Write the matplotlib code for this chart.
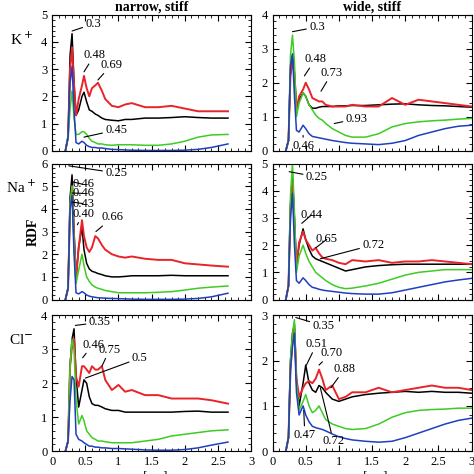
import matplotlib
matplotlib.use("Agg")
import matplotlib.pyplot as plt
import numpy as np

plt.rcParams['font.family'] = ['Liberation Serif', 'DejaVu Serif']

# ---- data ----
rN = [0.2, 0.24, 0.27, 0.3, 0.33, 0.36, 0.4, 0.45, 0.48, 0.52, 0.56, 0.6, 0.65, 0.69, 0.75, 0.8, 0.9, 1.0, 1.1, 1.2, 1.4, 1.6, 1.8, 2.0, 2.2, 2.4, 2.65]
rW = [0.2, 0.24, 0.27, 0.3, 0.33, 0.36, 0.4, 0.46, 0.5, 0.55, 0.6, 0.65, 0.7, 0.75, 0.8, 0.9, 1.0, 1.1, 1.2, 1.4, 1.6, 1.8, 2.0, 2.2, 2.4, 2.6, 2.8, 3.0]

# K+ narrow
K_n_black = [0, 0.5, 3.5, 4.3, 2.5, 1.3, 1.5, 2.0, 2.15, 1.8, 1.5, 1.45, 1.35, 1.3, 1.2, 1.15, 1.12, 1.1, 1.15, 1.15, 1.2, 1.2, 1.22, 1.25, 1.22, 1.2, 1.2]
K_n_red = [0, 0.5, 3.0, 3.8, 2.4, 1.3, 1.9, 2.4, 2.75, 2.3, 2.0, 2.3, 2.4, 2.5, 2.2, 1.9, 1.65, 1.6, 1.7, 1.75, 1.6, 1.6, 1.65, 1.55, 1.45, 1.45, 1.45]
K_n_green = [0, 0.5, 1.5, 2.2, 1.2, 0.6, 0.6, 0.7, 0.7, 0.6, 0.45, 0.35, 0.3, 0.25, 0.25, 0.22, 0.2, 0.22, 0.22, 0.22, 0.2, 0.2, 0.25, 0.35, 0.5, 0.58, 0.6]
K_n_blue = [0, 0.5, 2.5, 3.1, 1.5, 0.3, 0.25, 0.35, 0.3, 0.2, 0.15, 0.12, 0.12, 0.1, 0.1, 0.08, 0.05, 0.04, 0.03, 0.02, 0.01, 0.01, 0.01, 0.02, 0.05, 0.12, 0.25]

# K+ wide
K_w_black = [0, 0.3, 2.4, 2.8, 2.2, 1.3, 1.5, 1.7, 1.6, 1.35, 1.25, 1.25, 1.28, 1.3, 1.3, 1.3, 1.32, 1.32, 1.33, 1.33, 1.35, 1.37, 1.38, 1.35, 1.33, 1.32, 1.3, 1.28]
K_w_red = [0, 0.3, 2.2, 2.6, 2.3, 1.2, 1.6, 1.8, 2.0, 1.8, 1.55, 1.5, 1.45, 1.45, 1.35, 1.3, 1.3, 1.3, 1.35, 1.3, 1.3, 1.55, 1.35, 1.5, 1.45, 1.4, 1.35, 1.3]
K_w_green = [0, 0.3, 2.8, 3.4, 2.6, 1.0, 1.4, 1.7, 1.6, 1.35, 1.2, 1.05, 0.95, 0.9, 0.8, 0.65, 0.55, 0.45, 0.4, 0.4, 0.5, 0.7, 0.8, 0.85, 0.88, 0.9, 0.93, 0.95]
K_w_blue = [0, 0.3, 2.5, 2.85, 1.6, 0.6, 0.55, 0.75, 0.65, 0.5, 0.42, 0.4, 0.38, 0.36, 0.34, 0.3, 0.27, 0.24, 0.22, 0.2, 0.18, 0.22, 0.3, 0.45, 0.55, 0.65, 0.72, 0.75]

# Na+ narrow
N_n_black = [0, 0.5, 4.5, 5.5, 3.0, 1.0, 2.3, 3.2, 2.2, 1.6, 1.35, 1.25, 1.2, 1.15, 1.1, 1.05, 1.0, 1.0, 1.02, 1.05, 1.05, 1.05, 1.07, 1.05, 1.05, 1.05, 1.05]
N_n_red = [0, 0.5, 4.0, 5.0, 2.8, 0.9, 2.3, 3.5, 2.8, 2.3, 2.1, 2.3, 2.8, 2.7, 2.4, 2.2, 2.0, 1.9, 1.85, 1.9, 1.8, 1.75, 1.75, 1.6, 1.55, 1.5, 1.45]
N_n_green = [0, 0.5, 4.2, 5.0, 2.5, 0.7, 1.3, 2.0, 1.5, 1.0, 0.8, 0.65, 0.55, 0.5, 0.45, 0.4, 0.35, 0.3, 0.3, 0.3, 0.3, 0.32, 0.35, 0.42, 0.5, 0.55, 0.6]
N_n_blue = [0, 0.5, 4.0, 4.6, 2.0, 0.3, 0.25, 0.35, 0.3, 0.2, 0.15, 0.12, 0.1, 0.08, 0.07, 0.06, 0.05, 0.04, 0.03, 0.02, 0.01, 0.01, 0.01, 0.02, 0.05, 0.12, 0.28]

# Na+ wide
N_w_black = [0, 0.5, 3.5, 4.6, 3.0, 1.2, 2.0, 2.6, 2.2, 1.85, 1.6, 1.5, 1.45, 1.4, 1.35, 1.25, 1.15, 1.05, 1.1, 1.2, 1.25, 1.28, 1.3, 1.3, 1.3, 1.3, 1.3, 1.3]
N_w_red = [0, 0.5, 3.3, 4.3, 2.8, 1.2, 2.1, 2.5, 2.2, 2.0, 1.8, 1.9, 1.7, 1.55, 1.5, 1.45, 1.35, 1.3, 1.45, 1.4, 1.45, 1.35, 1.4, 1.4, 1.45, 1.4, 1.35, 1.3]
N_w_green = [0, 0.5, 3.8, 5.0, 3.2, 1.0, 1.6, 2.0, 1.7, 1.4, 1.2, 1.0, 0.9, 0.8, 0.7, 0.55, 0.45, 0.4, 0.42, 0.5, 0.6, 0.75, 0.9, 1.0, 1.05, 1.1, 1.1, 1.1]
N_w_blue = [0, 0.5, 3.0, 3.9, 2.0, 0.7, 0.6, 0.8, 0.7, 0.55, 0.45, 0.42, 0.38, 0.35, 0.33, 0.3, 0.27, 0.24, 0.22, 0.2, 0.2, 0.25, 0.35, 0.45, 0.55, 0.65, 0.72, 0.78]

# Cl- narrow
C_n_black = [0, 0.3, 2.5, 3.3, 3.6, 2.2, 1.3, 1.8, 2.1, 2.0, 1.6, 1.4, 1.35, 1.35, 1.3, 1.25, 1.2, 1.2, 1.15, 1.15, 1.15, 1.15, 1.15, 1.17, 1.18, 1.15, 1.15]
C_n_red = [0, 0.3, 2.5, 3.1, 3.3, 2.2, 1.9, 2.5, 2.5, 2.4, 2.3, 2.5, 2.4, 2.4, 2.5, 2.1, 1.8, 1.95, 1.75, 1.8, 1.65, 1.65, 1.55, 1.55, 1.55, 1.5, 1.4]
C_n_green = [0, 0.3, 2.5, 3.3, 3.0, 1.5, 0.8, 1.05, 0.9, 0.6, 0.5, 0.4, 0.35, 0.3, 0.3, 0.28, 0.25, 0.25, 0.25, 0.25, 0.3, 0.35, 0.45, 0.5, 0.55, 0.6, 0.63]
C_n_blue = [0, 0.3, 1.5, 2.2, 2.1, 0.5, 0.35, 0.3, 0.25, 0.2, 0.15, 0.15, 0.12, 0.12, 0.1, 0.1, 0.08, 0.08, 0.07, 0.06, 0.04, 0.03, 0.03, 0.05, 0.1, 0.18, 0.27]

# Cl- wide
C_w_black = [0, 0.3, 2.0, 2.6, 2.8, 1.6, 1.0, 1.5, 1.9, 1.5, 1.35, 1.3, 1.45, 1.4, 1.3, 1.15, 1.1, 1.15, 1.2, 1.25, 1.28, 1.3, 1.32, 1.3, 1.32, 1.3, 1.3, 1.28]
C_w_red = [0, 0.3, 1.8, 2.4, 2.7, 1.6, 1.2, 1.4, 1.5, 1.55, 1.5, 1.6, 1.8, 1.6, 1.35, 1.45, 1.15, 1.2, 1.3, 1.3, 1.4, 1.3, 1.35, 1.4, 1.45, 1.4, 1.4, 1.35]
C_w_green = [0, 0.3, 2.0, 2.6, 2.9, 1.5, 0.9, 1.1, 1.25, 1.0, 0.85, 0.9, 1.0, 0.85, 0.7, 0.6, 0.55, 0.5, 0.48, 0.5, 0.6, 0.75, 0.85, 0.9, 0.92, 0.93, 0.95, 0.95]
C_w_blue = [0, 0.3, 1.8, 2.3, 2.6, 1.3, 0.8, 1.0, 0.8, 0.65, 0.55, 0.52, 0.5, 0.48, 0.45, 0.38, 0.32, 0.28, 0.25, 0.22, 0.2, 0.22, 0.3, 0.4, 0.5, 0.6, 0.68, 0.73]

row_labels = ['K$^+$', 'Na$^+$', 'Cl$^{-}$']
col_titles = ['narrow, stiff', 'wide, stiff']
ylims = [[5, 4], [6, 5], [4, 3]]
yticks = [[[0, 1, 2, 3, 4, 5], [0, 1, 2, 3, 4]],
          [[0, 1, 2, 3, 4, 5, 6], [0, 1, 2, 3, 4, 5]],
          [[0, 1, 2, 3, 4], [0, 1, 2, 3]]]
xticks = [0, 0.5, 1, 1.5, 2, 2.5, 3]
xticklabels = ['0', '0.5', '1', '1.5', '2', '2.5', '3']

panels = [[(rN, K_n_black, K_n_red, K_n_green, K_n_blue), (rW, K_w_black, K_w_red, K_w_green, K_w_blue)],
          [(rN, N_n_black, N_n_red, N_n_green, N_n_blue), (rW, N_w_black, N_w_red, N_w_green, N_w_blue)],
          [(rN, C_n_black, C_n_red, C_n_green, C_n_blue), (rW, C_w_black, C_w_red, C_w_green, C_w_blue)]]

# annotations: (label, x, y, text_x, text_y)
annots = [[[('0.3', 0.3, 4.4, 0.5, 4.55), ('0.48', 0.48, 2.9, 0.47, 3.4), ('0.69', 0.69, 2.6, 0.73, 3.05), ('0.45', 0.48, 0.5, 0.8, 0.65)],
           [('0.3', 0.3, 3.5, 0.55, 3.55), ('0.48', 0.48, 2.2, 0.48, 2.6), ('0.73', 0.73, 1.75, 0.73, 2.2), ('0.93', 0.93, 0.8, 1.1, 0.85), ('0.46', 0.46, 0.45, 0.3, 0.05)]],
          [[('0.25', 0.25, 5.9, 0.8, 5.45), ('0.46', 0.3, 5.2, 0.3, 4.95), ('0.46', 0.3, 4.7, 0.3, 4.55), ('0.43', 0.3, 4.3, 0.3, 4.1), ('0.40', 0.38, 3.3, 0.3, 3.65), ('0.66', 0.66, 3.0, 0.75, 3.5)],
           [('0.25', 0.25, 4.7, 0.5, 4.4), ('0.44', 0.44, 2.8, 0.42, 3.0), ('0.65', 0.65, 1.9, 0.65, 2.1), ('0.72', 0.72, 1.5, 1.35, 1.9)]],
          [[('0.35', 0.35, 3.7, 0.55, 3.7), ('0.46', 0.46, 2.75, 0.45, 3.05), ('0.75', 0.75, 2.5, 0.7, 2.9), ('0.5', 0.5, 2.15, 1.2, 2.65)],
           [('0.35', 0.35, 2.95, 0.6, 2.7), ('0.51', 0.51, 1.9, 0.5, 2.3), ('0.70', 0.70, 1.9, 0.72, 2.1), ('0.88', 0.88, 1.4, 0.92, 1.75), ('0.47', 0.47, 0.9, 0.32, 0.3), ('0.72', 0.72, 1.4, 0.75, 0.15)]]]

colors = ['black', '#e8242a', '#3ecb23', '#1f3fbf']

fig = plt.figure(figsize=(4.74, 4.74), dpi=100)
lefts = [0.11, 0.575]
w = 0.42
bottoms = [0.682, 0.368, 0.048]
h = 0.287
for i in range(3):
    for j in range(2):
        ax = fig.add_axes([lefts[j], bottoms[i], w, h])
        r, *curves = panels[i][j]
        for c, g in zip(colors, curves):
            ax.plot(r, g, color=c, lw=1.1 if c != '#e8242a' else 1.4)
        ax.set_xlim(0, 3)
        ax.set_ylim(0, ylims[i][j])
        ax.set_xticks(xticks)
        ax.set_xticklabels(xticklabels if i == 2 else [''] * len(xticks))
        ax.set_yticks(yticks[i][j])
        ax.minorticks_on()
        ax.tick_params(which='both', direction='in', top=True, right=True, labelsize=9)
        ax.tick_params(which='major', length=4)
        ax.tick_params(which='minor', length=2)
        for lab, x, y, tx, ty in annots[i][j]:
            ax.annotate(lab, xy=(x, y), xytext=(tx, ty), fontsize=9,
                        arrowprops=dict(arrowstyle='-', color='black', lw=0.8, shrinkA=0, shrinkB=0))
        if i == 0:
            ax.text(0.5, 1.06, col_titles[j], transform=ax.transAxes, ha='center',
                    va='center', fontsize=10, fontweight='bold')
        if i == 2:
            ax.text(0.5, -0.14, 'r [nm]', transform=ax.transAxes, ha='center',
                    va='top', fontsize=9)
    fig.text(0.045, bottoms[i] + h * 0.78, row_labels[i], fontsize=11, ha='center')
fig.text(0.07, bottoms[1] + h / 2, 'RDF', rotation=90, fontsize=10, fontweight='bold', ha='center', va='center')
fig.savefig('out.png', dpi=100)
